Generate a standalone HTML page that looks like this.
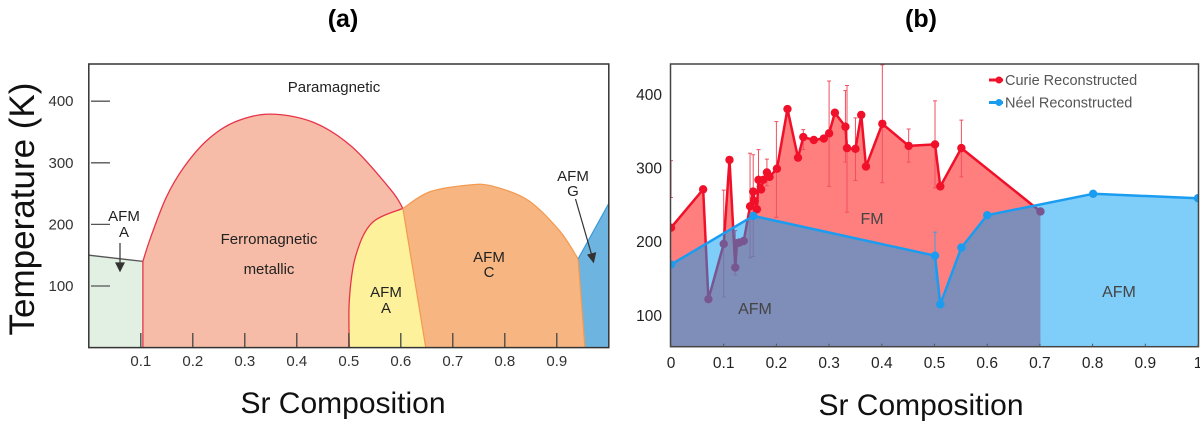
<!DOCTYPE html>
<html><head><meta charset="utf-8"><style>
html,body{margin:0;padding:0;background:#fff;}
svg{display:block;font-family:"Liberation Sans",Arial,sans-serif;}
</style></head><body>
<svg id="fig" width="1200" height="423" viewBox="0 0 1200 423" xmlns="http://www.w3.org/2000/svg">
<text x="343" y="27" font-size="25" font-weight="bold" text-anchor="middle">(a)</text>
<text x="921" y="27" font-size="25" font-weight="bold" text-anchor="middle">(b)</text>
<g id="pa"></g>
<g id="pb"></g>
</svg>
<script>
// ---------- Panel (a) data (Sr composition, Temperature K) ----------
const aYTicks = [100, 200, 300, 400];
const aXTicks = [0.1, 0.2, 0.3, 0.4, 0.5, 0.6, 0.7, 0.8, 0.9];
const afmALeftTop = [[0,150],[0.104,140]];
const fmBoundary = [[0.104,140],[0.119,179],[0.149,244],[0.183,293],[0.228,337],[0.28,366],[0.348,379],[0.431,366],[0.506,326],[0.581,256],[0.604,226]];
const fmInner = [[0.604,226],[0.544,202],[0.513,148],[0.501,77],[0.501,0]];
const afmCBoundary = [[0.604,226],[0.656,253],[0.732,264],[0.777,262],[0.845,239],[0.905,190],[0.941,144]];
const afmCDivider = [[0.604,226],[0.648,0]];
const afmGTop = [[0.941,144],[1.0,234]];
const afmGBottom = [[0.954,0],[1.0,0]];

// ---------- Panel (b) data ----------
const bYTicks = [100, 200, 300, 400];
const bXTicks = [0, 0.1, 0.2, 0.3, 0.4, 0.5, 0.6, 0.7, 0.8, 0.9, 1];
const bXTickLabels = ["0","0.1","0.2","0.3","0.4","0.5","0.6","0.7","0.8","0.9","1"];
const curieX = [0,0.061,0.071,0.1,0.111,0.122,0.125,0.13,0.138,0.15,0.156,0.159,0.163,0.166,0.171,0.175,0.182,0.187,0.201,0.221,0.241,0.251,0.271,0.29,0.3,0.311,0.331,0.334,0.35,0.361,0.37,0.401,0.451,0.501,0.511,0.551,0.701];
const curieT = [219,271,122,197,311,165,198,199,201,248,268,255,244,284,271,284,294,288,299,380,314,342,338,340,347,375,356,327,326,372,302,360,330,332,275,327,241];
const curieErrX = [0,0.1,0.122,0.15,0.156,0.166,0.182,0.2,0.251,0.3,0.331,0.334,0.35,0.401,0.451,0.501,0.551];
const curieErrLo = [260,125,155,178,180,275,276,233,325,275,308,240,283,280,308,273,288];
const curieErrHi = [310,270,215,320,318,325,312,363,352,418,405,412,368,440,353,391,365];
const neelX = [0,0.156,0.501,0.511,0.551,0.6,0.801,1.0];
const neelT = [169,235,181,115,192,236,265,259];
const neelErrX = [0.501];
const neelErrLo = [148];
const neelErrHi = [213];

const NS = "http://www.w3.org/2000/svg";
function mk(parent, tag, attrs, text){
  const e = document.createElementNS(NS, tag);
  for (const k in attrs) e.setAttribute(k, attrs[k]);
  if (text !== undefined) e.textContent = text;
  parent.appendChild(e);
  return e;
}
function smooth(pts, X, Y){
  let d = "M"+X(pts[0][0])+","+Y(pts[0][1]);
  for (let i=0;i<pts.length-1;i++){
    const p0=pts[Math.max(i-1,0)], p1=pts[i], p2=pts[i+1], p3=pts[Math.min(i+2,pts.length-1)];
    const c1x=X(p1[0])+(X(p2[0])-X(p0[0]))/6, c1y=Y(p1[1])+(Y(p2[1])-Y(p0[1]))/6;
    const c2x=X(p2[0])-(X(p3[0])-X(p1[0]))/6, c2y=Y(p2[1])-(Y(p3[1])-Y(p1[1]))/6;
    d+=" C"+c1x+","+c1y+" "+c2x+","+c2y+" "+X(p2[0])+","+Y(p2[1]);
  }
  return d;
}
function tail(d){ return d.replace(/^M[^ ]+/, ""); }

// ===== Panel A =====
(function(){
  const g = document.getElementById("pa");
  const X = v => 88.8 + v*520;
  const Y = v => 347.6 - v*0.616;
  let e;
  e = mk(g,"path",{d:`M${X(0)},${Y(0)} L${X(afmALeftTop[0][0])},${Y(afmALeftTop[0][1])} L${X(afmALeftTop[1][0])},${Y(afmALeftTop[1][1])} L${X(afmALeftTop[1][0])},${Y(0)} Z`,fill:"#e2efe3"});
   
  e = mk(g,"path",{d:`M${X(afmALeftTop[0][0])},${Y(afmALeftTop[0][1])} L${X(afmALeftTop[1][0])},${Y(afmALeftTop[1][1])}`,stroke:"#555",fill:"none","stroke-width":1.3});
   
  const fmTop = smooth(fmBoundary,X,Y);
  const fmIn = smooth(fmInner,X,Y);
  e = mk(g,"path",{d:`M${X(fmBoundary[0][0])},${Y(0)} L${X(fmBoundary[0][0])},${Y(fmBoundary[0][1])} ${tail(fmTop)} ${tail(fmIn)} Z`,fill:"#f6bca7"});
   
  e = mk(g,"path",{d:`${fmIn} L${X(afmCDivider[1][0])},${Y(0)} L${X(afmCDivider[0][0])},${Y(afmCDivider[0][1])} Z`,fill:"#fdf29b"});
   
  const cTop = smooth(afmCBoundary,X,Y);
  e = mk(g,"path",{d:`${cTop} L${X(afmGBottom[0][0])},${Y(0)} L${X(afmCDivider[1][0])},${Y(0)} Z`,fill:"#f6b581"});
   
  e = mk(g,"path",{d:`M${X(afmGTop[0][0])},${Y(afmGTop[0][1])} L${X(afmGTop[1][0])},${Y(afmGTop[1][1])} L${X(1)},${Y(0)} L${X(afmGBottom[0][0])},${Y(0)} Z`,fill:"#6db5e0"});
   
  e = mk(g,"path",{d:`M${X(fmBoundary[0][0])},${Y(0)} L${X(fmBoundary[0][0])},${Y(fmBoundary[0][1])} ${tail(fmTop)} ${tail(fmIn)}`,fill:"none",stroke:"#e8344a","stroke-width":1.3});
   
  e = mk(g,"path",{d:`${cTop} L${X(afmGBottom[0][0])},${Y(0)} M${X(afmCDivider[0][0])},${Y(afmCDivider[0][1])} L${X(afmCDivider[1][0])},${Y(0)}`,fill:"none",stroke:"#f39a50","stroke-width":1.2});
   
  e = mk(g,"path",{d:`M${X(afmGTop[0][0])},${Y(afmGTop[0][1])} L${X(afmGTop[1][0])},${Y(afmGTop[1][1])}`,fill:"none",stroke:"#3a9ad8","stroke-width":1.2});
   
  e = mk(g,"rect",{x:88.8,y:64,width:520,height:283.6,fill:"none",stroke:"#333","stroke-width":1.5});
   
  aYTicks.forEach(t=>{
    let l = mk(g,"line",{x1:91,x2:110,y1:Y(t),y2:Y(t),stroke:"#555","stroke-width":1.3});
     
    let tx = mk(g,"text",{x:61,y:Y(t)+5,"font-size":15,"text-anchor":"middle",fill:"#333"},String(t));
     
  });
  aXTicks.forEach(t=>{
    let l = mk(g,"line",{x1:X(t),x2:X(t),y1:333,y2:347,stroke:"#444","stroke-width":1.3});
     
    let tx = mk(g,"text",{x:X(t),y:366,"font-size":15,"text-anchor":"middle",fill:"#333"},t.toFixed(1));
     
  });
  const labels = [["Paramagnetic",334,92,"paramagnetic-label"],["Ferromagnetic",269,244,"ferromagnetic-label"],["metallic",269,274,"metallic-label"],
    ["AFM",124,221,"afm-a-left-label"],["A",124,237,"afm-a-left-sub"],["AFM",386,297,"afm-a-mid-label"],["A",386,313,"afm-a-mid-sub"],
    ["AFM",489,262,"afm-c-label"],["C",489,277,"afm-c-sub"],["AFM",573,181,"afm-g-label"],["G",573,196,"afm-g-sub"]];
  labels.forEach(l=>{
    let tx = mk(g,"text",{x:l[1],y:l[2],"font-size":15,"text-anchor":"middle",fill:"#222"},l[0]);
     
  });
  e = mk(g,"path",{d:"M120,243 L120,266 M116,263 L120,271 L124,263 Z",stroke:"#333",fill:"#333","stroke-width":1.2});
   
  e = mk(g,"path",{d:"M575.5,199 L592,256 M588,255 L593.5,262 L595.5,253 Z",stroke:"#333",fill:"#333","stroke-width":1.2});
   
  e = mk(g,"text",{x:34,y:209,"font-size":35,"text-anchor":"middle",transform:"rotate(-90 34 209)",fill:"#111"},"Temperature (K)");
   
  e = mk(g,"text",{x:343,y:413,"font-size":30,"text-anchor":"middle",fill:"#111"},"Sr Composition");
   
})();

// ===== Panel B =====
(function(){
  const g = document.getElementById("pb");
  const X = v => 671 + v*527;
  const Y = v => 94.3 + (400 - v)*0.737;
  const yB = 346.7;
  const clip = mk(g,"clipPath",{id:"cb"});
  mk(clip,"rect",{x:670,y:64,width:529,height:283});
  const pg = mk(g,"g",{"clip-path":"url(#cb)"});
  let e;
  let cd = "M"+X(curieX[0])+","+yB; curieX.forEach((x,i)=>cd+=" L"+X(x)+","+Y(curieT[i])); cd+=" L"+X(curieX[curieX.length-1])+","+yB+" Z";
  e = mk(pg,"path",{d:cd,fill:"rgba(255,0,0,0.5)"});
   
  curieErrX.forEach((x,i)=>{
    let l = mk(pg,"path",{d:`M${X(x)},${Y(curieErrLo[i])} L${X(x)},${Y(curieErrHi[i])} M${X(x)-2},${Y(curieErrLo[i])} h4 M${X(x)-2},${Y(curieErrHi[i])} h4`,stroke:"#f05060","stroke-width":1,fill:"none"});
     
  });
  let cl = ""; curieX.forEach((x,i)=>cl+=(i?" L":"M")+X(x)+","+Y(curieT[i]));
  e = mk(pg,"path",{d:cl,fill:"none",stroke:"#f0102a","stroke-width":2.5,"stroke-linejoin":"round"});
   
  curieX.forEach((x,i)=>{
    let c = mk(pg,"circle",{cx:X(x),cy:Y(curieT[i]),r:4.2,fill:"#f0102a"});
     
  });
  let nd = "M"+X(neelX[0])+","+yB; neelX.forEach((x,i)=>nd+=" L"+X(x)+","+Y(neelT[i])); nd+=" L"+X(neelX[neelX.length-1])+","+yB+" Z";
  e = mk(pg,"path",{d:nd,fill:"rgba(0,155,243,0.5)"});
   
  neelErrX.forEach((x,i)=>{
    let l = mk(pg,"path",{d:`M${X(x)},${Y(neelErrLo[i])} L${X(x)},${Y(neelErrHi[i])} M${X(x)-2},${Y(neelErrLo[i])} h4 M${X(x)-2},${Y(neelErrHi[i])} h4`,stroke:"#3aa0e8","stroke-width":1,fill:"none"});
     
  });
  let nl = ""; neelX.forEach((x,i)=>nl+=(i?" L":"M")+X(x)+","+Y(neelT[i]));
  e = mk(pg,"path",{d:nl,fill:"none",stroke:"#1a9cf0","stroke-width":2.5,"stroke-linejoin":"round"});
   
  neelX.forEach((x,i)=>{
    let c = mk(pg,"circle",{cx:X(x),cy:Y(neelT[i]),r:4.2,fill:"#1a9cf0"});
     
  });
  e = mk(g,"rect",{x:670.5,y:64,width:528,height:282.7,fill:"none",stroke:"#444","stroke-width":1.5});
   
  bYTicks.forEach(t=>{
    let tx = mk(g,"text",{x:662,y:Y(t)+5.5,"font-size":15.5,"text-anchor":"end",fill:"#222"},String(t));
     
  });
  bXTicks.forEach((t,i)=>{
    let l = mk(g,"line",{x1:X(t),x2:X(t),y1:yB,y2:yB-3,stroke:"#555","stroke-width":1});
     
    let tx = mk(g,"text",{x:X(t),y:368,"font-size":15.5,"text-anchor":"middle",fill:"#222"},bXTickLabels[i]);
     
  });
  const labs = [["FM",872,224,"fm-label"],["AFM",755,314,"afm-label-left"],["AFM",1119,297,"afm-label-right"]];
  labs.forEach(l=>{
    let tx = mk(g,"text",{x:l[1],y:l[2],"font-size":16,"text-anchor":"middle",fill:"#444"},l[0]);
     
  });
  e = mk(g,"g",{});  
  const leg = e;
  [["Curie Reconstructed","#f0102a",80,"legend-curie"],["Néel Reconstructed","#1a9cf0",102.5,"legend-neel"]].forEach(r=>{
    let m = mk(leg,"path",{d:`M989,${r[2]} h14`,stroke:r[1],"stroke-width":3});
     
    let c = mk(leg,"circle",{cx:999,cy:r[2],r:3.5,fill:r[1]});
     
    let tx = mk(leg,"text",{x:1005,y:r[2]+5,"font-size":14.5,fill:"#555"},r[0]);
     
  });
  e = mk(g,"text",{x:921,y:415,"font-size":30,"text-anchor":"middle",fill:"#111"},"Sr Composition");
   
})();
</script>
</body></html>
